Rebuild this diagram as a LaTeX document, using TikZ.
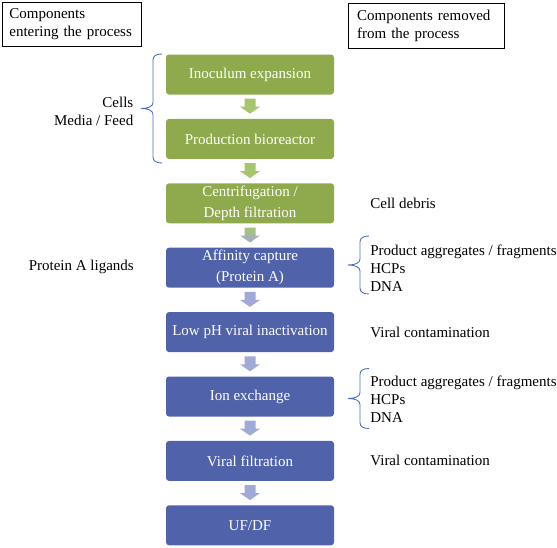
\documentclass[tikz,border=0pt]{standalone}
\usepackage{fontspec}
\setmainfont{Liberation Serif}
\usepackage{tikz}
\usetikzlibrary{arrows,calc,positioning}
\definecolor{stepgreen}{RGB}{142,170,76}
\definecolor{stepblue}{RGB}{80,98,170}
\definecolor{arrowgreen}{RGB}{166,198,110}
\definecolor{arrowblue}{RGB}{160,170,214}
\definecolor{bracecol}{RGB}{72,112,196}

\begin{document}
\begin{tikzpicture}[x=1pt, y=-1pt,
  procbox/.style={rounded corners=3pt, minimum width=168pt, minimum height=40pt, inner sep=0pt,
    text=white, align=center, font=\fontsize{15}{21}\selectfont},
  greenbox/.style={procbox, fill=stepgreen},
  bluebox/.style={procbox, fill=stepblue},
  headbox/.style={draw, line width=0.8pt, anchor=north west, align=left, inner ysep=0pt,
    font=\fontsize{15}{18}\selectfont},
  sidetext/.style={font=\fontsize{15}{18}\selectfont, align=left, inner sep=0pt},
  garrow/.style={fill=arrowgreen},
  barrow/.style={fill=arrowblue},
  mixarrow/.style={top color=arrowgreen, bottom color=arrowblue},
  curlybr/.style={draw=bracecol, line width=0.9pt}]
\useasboundingbox (0,0) rectangle (557,547);

\node[headbox, minimum width=139pt, minimum height=44.5pt, inner xsep=7.5pt, text width=124pt] (inhead) at (1.5,1.5) {Components\\entering the process};
\node[headbox, minimum width=155.7pt, minimum height=45pt, inner xsep=8.4pt, text width=138.9pt] (outhead) at (348.3,2.7) {Components removed\\from the process};

\node[greenbox] (inoc) at (250,74.5) {Inoculum expansion};
\node[greenbox, below=24pt of inoc] (prod) {Production bioreactor};
\node[greenbox, below=24pt of prod] (cent) {Centrifugation /\\Depth filtration};
\node[bluebox, below=24pt of cent] (affi) {Affinity capture\\(Protein A)};
\node[bluebox, below=24pt of affi] (lowph) {Low pH viral inactivation};
\node[bluebox, below=24pt of lowph] (ionx) {Ion exchange};
\node[bluebox, below=24pt of ionx] (vfilt) {Viral filtration};
\node[bluebox, below=24pt of vfilt] (ufdf) {UF/DF};

\foreach \a/\b/\c in {inoc/prod/garrow, prod/cent/garrow, cent/affi/mixarrow, affi/lowph/barrow,
  lowph/ionx/barrow, ionx/vfilt/barrow, vfilt/ufdf/barrow}{
  \path[\c] ($(\a.south)+(-5.5,4)$) -- ($(\b.north)+(-5.5,-12)$) -- ($(\b.north)+(-10,-12)$)
    -- ($(\b.north)+(0,-5)$) -- ($(\b.north)+(10,-12)$) -- ($(\b.north)+(5.5,-12)$)
    -- ($(\a.south)+(5.5,4)$) -- cycle;
}

\node[sidetext, anchor=east, align=right] (cells) at (133.5,111) {Cells\\Media / Feed};
\node[sidetext, anchor=east] (ligand) at (134,267) {Protein A ligands};
\node[sidetext, right=36pt of cent] (debris) {Cell debris};
\node[sidetext, right=36pt of affi, yshift=-1pt] (impure1) {Product aggregates / fragments\\HCPs\\DNA};
\node[sidetext, right=36pt of lowph] (virus1) {Viral contamination};
\node[sidetext, right=36pt of ionx, yshift=-3pt] (impure2) {Product aggregates / fragments\\HCPs\\DNA};
\node[sidetext, right=36pt of vfilt] (virus2) {Viral contamination};

%tip x / tip y / half height of each brace
\foreach \tx/\ty/\h in {141/108.5/54.5, 348/265/29, 348/398.5/30}{
  \draw[curlybr] (\tx+21,\ty-\h) .. controls (\tx+15,\ty-\h) and (\tx+12,\ty-\h+2) .. (\tx+12,\ty-\h+6)
    -- (\tx+12,\ty-6) .. controls (\tx+12,\ty-2) and (\tx+7,\ty) .. (\tx,\ty)
    .. controls (\tx+7,\ty) and (\tx+12,\ty+2) .. (\tx+12,\ty+6)
    -- (\tx+12,\ty+\h-6) .. controls (\tx+12,\ty+\h-2) and (\tx+15,\ty+\h) .. (\tx+21,\ty+\h);
}
\end{tikzpicture}
\end{document}
